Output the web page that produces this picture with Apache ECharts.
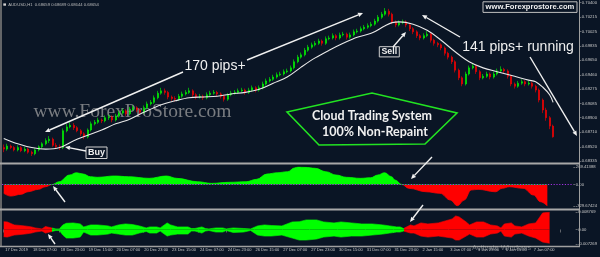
<!DOCTYPE html>
<html><head><meta charset="utf-8">
<script src="https://cdn.jsdelivr.net/npm/echarts@6/dist/echarts.min.js"></script>
<style>html,body{margin:0;padding:0;background:#0a1525;}#c{width:600px;height:257px;}</style>
</head><body><div id="c"></div>
<script>
// ---------- data ----------
const symbolName = 'AUDUSD,H1';
const lastBar = {open: 0.68659, high: 0.68689, low: 0.68644, close: 0.68654};

const tickLabels = ['17 Dec 2019','18 Dec 07:00','18 Dec 23:00','19 Dec 15:00','20 Dec 07:00','20 Dec 23:00',
  '23 Dec 15:00','24 Dec 07:00','24 Dec 23:00','26 Dec 15:00','27 Dec 07:00','27 Dec 23:00','30 Dec 15:00',
  '31 Dec 07:00','31 Dec 23:00','2 Jan 15:00','3 Jan 07:00','3 Jan 23:00','6 Jan 15:00','7 Jan 07:00'];
const barSlots = 165;        // 2-hour slots on the time axis (last ones empty: chart shift)
const barsPerLabel = 8;

const priceTicks = [0.70400,0.70215,0.70025,0.69835,0.69650,0.69460,0.69275,0.69085,0.68900,0.68710,0.68520,0.68335];
const osc2Ticks = [-329.67424, 0, 269.41388];
const osc3Ticks = [-0.007269, 0, 0.008769];

const barOpen = [.6851,.6849,.6853,.6851,.6848,.6851,.6847,.6849,.6845,.6843,
 .6848,.6852,.6856,.6860,.6862,.6854,.6852,.6851,.6873,.6878,
 .6880,.6877,.6873,.6869,.6865,.6874,.6882,.6884,.6887,.6886,
 .6890,.6891,.6887,.6892,.6896,.6899,.6895,.6901,.6903,.6900,
 .6897,.6903,.6908,.6910,.6916,.6922,.6925,.6923,.6917,.6915,
 .6914,.6918,.6921,.6923,.6925,.6920,.6917,.6918,.6916,.6920,
 .6922,.6923,.6921,.6918,.6914,.6920,.6922,.6923,.6925,.6926,
 .6923,.6926,.6929,.6926,.6929,.6934,.6938,.6940,.6943,.6946,
 .6947,.6950,.6951,.6955,.6963,.6969,.6972,.6978,.6982,.6985,
 .6987,.6990,.6987,.6993,.6994,.6997,.6994,.6998,.6999,.6995,
 .6998,.7002,.7003,.7006,.7008,.7010,.7012,.7016,.7021,.7025,
 .7029,.7025,.7015,.7011,.7014,.7015,.7011,.7006,.7002,.6997,
 .6994,.6997,.6999,.6991,.6987,.6985,.6981,.6974,.6969,.6963,
 .6952,.6942,.6934,.6947,.6955,.6957,.6950,.6942,.6944,.6947,
 .6943,.6947,.6951,.6953,.6951,.6944,.6934,.6931,.6935,.6937,
 .6934,.6935,.6931,.6926,.6913,.6900,.6890,.6879];
const barClose = [.6849,.6853,.6851,.6848,.6851,.6847,.6849,.6845,.6843,.6848,
 .6852,.6856,.6860,.6862,.6854,.6852,.6851,.6873,.6878,.6880,
 .6877,.6873,.6869,.6865,.6874,.6882,.6884,.6887,.6886,.6890,
 .6891,.6887,.6892,.6896,.6899,.6895,.6901,.6903,.6900,.6897,
 .6903,.6908,.6910,.6916,.6922,.6925,.6923,.6917,.6915,.6914,
 .6918,.6921,.6923,.6925,.6920,.6917,.6918,.6916,.6920,.6922,
 .6923,.6921,.6918,.6914,.6920,.6922,.6923,.6925,.6926,.6923,
 .6926,.6929,.6926,.6929,.6934,.6938,.6940,.6943,.6946,.6947,
 .6950,.6951,.6955,.6963,.6969,.6972,.6978,.6982,.6985,.6987,
 .6990,.6987,.6993,.6994,.6997,.6994,.6998,.6999,.6995,.6998,
 .7002,.7003,.7006,.7008,.7010,.7012,.7016,.7021,.7025,.7029,
 .7025,.7015,.7011,.7014,.7015,.7011,.7006,.7002,.6997,.6994,
 .6997,.6999,.6991,.6987,.6985,.6981,.6974,.6969,.6963,.6952,
 .6942,.6934,.6947,.6955,.6957,.6950,.6942,.6944,.6947,.6943,
 .6947,.6951,.6953,.6951,.6944,.6934,.6931,.6935,.6937,.6934,
 .6935,.6931,.6926,.6913,.6900,.6890,.6879,.6865];
const barLow = [.6845,.6847,.6849,.6846,.6846,.6845,.6845,.6843,.6840,.6841,
 .6846,.6850,.6854,.6857,.6852,.6849,.6848,.6849,.6871,.6876,
 .6874,.6871,.6866,.6862,.6863,.6872,.6880,.6882,.6883,.6884,
 .6887,.6884,.6885,.6890,.6894,.6892,.6893,.6899,.6897,.6894,
 .6895,.6901,.6906,.6908,.6914,.6920,.6920,.6914,.6912,.6911,
 .6912,.6916,.6919,.6921,.6917,.6914,.6915,.6913,.6914,.6918,
 .6920,.6918,.6915,.6911,.6912,.6918,.6920,.6921,.6923,.6920,
 .6921,.6924,.6923,.6924,.6927,.6932,.6936,.6938,.6941,.6944,
 .6945,.6948,.6949,.6953,.6961,.6967,.6970,.6976,.6980,.6983,
 .6985,.6984,.6985,.6991,.6992,.6991,.6992,.6996,.6992,.6993,
 .6996,.7000,.7001,.7004,.7006,.7008,.7010,.7014,.7019,.7023,
 .7022,.7012,.7008,.7009,.7012,.7008,.7003,.6999,.6994,.6991,
 .6992,.6995,.6988,.6984,.6982,.6978,.6971,.6966,.6960,.6949,
 .6939,.6931,.6932,.6945,.6953,.6947,.6939,.6940,.6942,.6940,
 .6941,.6945,.6949,.6948,.6941,.6931,.6928,.6929,.6933,.6931,
 .6932,.6928,.6923,.6910,.6896,.6886,.6875,.6864];
const barHigh = [.6855,.6856,.6855,.6853,.6854,.6853,.6852,.6851,.6847,.6850,
 .6854,.6858,.6863,.6866,.6864,.6857,.6855,.6876,.6882,.6884,
 .6883,.6879,.6875,.6871,.6876,.6885,.6887,.6890,.6889,.6893,
 .6894,.6893,.6895,.6899,.6902,.6901,.6904,.6906,.6905,.6902,
 .6906,.6911,.6913,.6919,.6925,.6929,.6928,.6925,.6919,.6918,
 .6921,.6924,.6926,.6929,.6927,.6922,.6921,.6920,.6923,.6925,
 .6926,.6925,.6923,.6920,.6922,.6925,.6926,.6928,.6929,.6928,
 .6929,.6932,.6931,.6932,.6937,.6941,.6943,.6946,.6949,.6950,
 .6953,.6954,.6958,.6966,.6972,.6975,.6981,.6985,.6988,.6990,
 .6993,.6992,.6996,.6997,.7000,.6999,.7001,.7002,.7001,.7001,
 .7005,.7006,.7009,.7011,.7013,.7015,.7019,.7024,.7028,.7033,
 .7032,.7027,.7017,.7017,.7018,.7017,.7013,.7008,.7004,.6999,
 .7000,.7003,.7001,.6993,.6989,.6987,.6983,.6976,.6971,.6965,
 .6954,.6944,.6950,.6958,.6961,.6959,.6952,.6947,.6950,.6949,
 .6950,.6954,.6957,.6955,.6953,.6946,.6936,.6938,.6940,.6939,
 .6938,.6937,.6933,.6928,.6915,.6903,.6892,.6881];

// moving average (white line), read at these bars
const maBar = [0,4,8,12,16,20,24,28,32,36,40,45,49,53,57,61,65,69,73,77,81,85,89,93,97,101,105,109,111,113,117,121,125,129,133,137,141,146,150,152,154,156,157];
const maVal = [.6863,.6856,.6851,.6849,.6851,.6860,.6867,.6874,.6882,.6888,.6897,.6907,.6912,.6916,.6917,
 .6918,.6921,.6923,.6927,.6935,.6943,.6956,.6968,.6978,.6987,.6995,.7000,.7010,.7014,.7015,
 .7012,.7004,.6991,.6976,.6963,.6955,.6950,.6944,.6939,.6937,.6930,.6920,.6910];

// cloud oscillator (panel 2)
const osc2Bar = [0,2,5,7,10,12,14,16,19,21,23,25,27,32,36,42,47,50,56,60,65,70,73,76,79,82,84,85,87,90,93,96,99,103,106,108,110,112,113,115,117,122,126,129,131,133,135,137,142,144,146,150,153,155,157];
const osc2Val = [-135,-177,-150,-111,-74,-34,0,43,146,181,161,120,111,131,120,95,131,95,43,18,
 34,43,80,161,181,197,255,269,264,249,197,146,111,95,104,146,181,120,69,0,
 -58,-111,-135,-238,-326,-238,-84,-74,-111,-58,-34,-58,-161,-264,-329];

// histogram band (panel 3)
const osc3Bar = [0,1,3,6,8,9,11,12,15,16,17,18,20,22,23,25,27,30,31,33,35,37,39,41,42,44,45,47,48,50,53,54,55,57,58,59,61,63,64,66,69,71,73,75,77,80,83,85,87,90,92,95,97,100,103,106,109,111,113,114,115,117,118,120,122,125,127,129,130,131,133,134,136,138,140,142,143,144,146,147,149,151,153,154,155,157];
const osc3Up = [.0039,.0038,.0023,.0018,.0013,.0008,.0003,.0015,.0003,.0003,
 .0023,.0031,.0033,.0028,.0013,.0023,.0023,.0018,.0013,.0023,
 .0028,.0025,.0018,.0008,.0013,.0013,.0008,.0033,.0023,.0013,
 .0013,.0005,.0005,.0013,.0005,.0003,.0008,.0008,.0003,.0008,
 .0005,.0003,.0018,.0023,.0020,.0018,.0038,.0039,.0048,.0048,
 .0038,.0033,.0038,.0033,.0028,.0028,.0023,.0018,.0013,.0013,
 .0005,.0023,.0018,.0033,.0028,.0033,.0043,.0053,.0068,.0063,
 .0038,.0023,.0038,.0038,.0023,.0018,.0008,.0028,.0033,.0018,
 .0013,.0028,.0033,.0058,.0083,.0087];
const osc3Dn = [-.0036,-.0038,-.0028,-.0023,-.0018,-.0013,-.0008,-.0018,-.0005,-.0005,
 -.0028,-.0043,-.0043,-.0038,-.0013,-.0028,-.0028,-.0023,-.0018,-.0023,
 -.0028,-.0028,-.0018,-.0010,-.0018,-.0018,-.0008,-.0033,-.0028,-.0023,
 -.0023,-.0008,-.0008,-.0018,-.0008,-.0005,-.0013,-.0013,-.0005,-.0015,
 -.0013,-.0005,-.0028,-.0033,-.0033,-.0028,-.0043,-.0053,-.0053,-.0048,
 -.0038,-.0033,-.0038,-.0033,-.0033,-.0028,-.0023,-.0018,-.0013,-.0013,
 -.0008,-.0018,-.0018,-.0033,-.0038,-.0033,-.0038,-.0043,-.0053,-.0053,
 -.0033,-.0023,-.0038,-.0038,-.0023,-.0018,-.0008,-.0033,-.0038,-.0023,
 -.0018,-.0033,-.0043,-.0053,-.0063,-.0069];

// ---------- styling / assembly ----------
const BG = '#0a1525', RED = '#ff0000', GREEN = '#00ff00', TXT = '#c8c8c8', FONT = 'Liberation Sans';
const cats = Array.from({length: barSlots}, (_, i) => String(i));
const candles = barOpen.map((o, i) => [o, barClose[i], barLow[i], barHigh[i]]);
const pairs = (xs, ys) => xs.map((x, i) => [x, ys[i]]);

// trend changes of the cloud oscillator -> colours of panel 3
const crossings = [];
for (let k = 1; k < osc2Val.length; k++) {
  const a = osc2Val[k - 1], b = osc2Val[k];
  if ((a < 0) !== (b < 0)) crossings.push(osc2Bar[k - 1] + (0 - a) / (b - a) * (osc2Bar[k] - osc2Bar[k - 1]));
}
const trendPieces = [];
let neg = osc2Val[0] < 0, lo = null;
crossings.forEach(c => {
  const p = {lt: c, color: neg ? RED : GREEN};
  if (lo !== null) p.gte = lo;
  trendPieces.push(p); lo = c; neg = !neg;
});
trendPieces.push({gte: lo, color: neg ? RED : GREEN});

const xAxisOf = (gi, show) => ({
  type: 'category', gridIndex: gi, data: cats, boundaryGap: true, offset: show ? 3 : 0,
  axisLine: {show: false}, splitLine: {show: false},
  axisTick: show ? {show: true, interval: barsPerLabel - 1, length: 3, alignWithLabel: true, lineStyle: {color: '#9a9a9a', width: 0.6}} : {show: false},
  axisLabel: show ? {show: true, interval: barsPerLabel - 1, fontSize: 4, color: TXT, fontFamily: FONT, align: 'left', margin: 1,
    padding: [0, 0, 0, 1.5], formatter: (v, i) => tickLabels[Math.round(Number(v) / barsPerLabel)] || ''} : {show: false}
});
const yAxisOf = (gi, ticks, fmt) => ({
  type: 'value', gridIndex: gi, position: 'right', min: Math.min(...ticks), max: Math.max(...ticks),
  splitLine: {show: false}, axisLine: {show: false},
  axisTick: {show: true, length: 2, customValues: ticks, lineStyle: {color: '#9a9a9a', width: 0.6}},
  axisLabel: {show: true, customValues: ticks, formatter: fmt, fontSize: 4.2, color: TXT, fontFamily: FONT, margin: 2.5}
});
const zeroFmt = v => (v === 0 ? '0.00' : String(v));

// annotation helpers
const W = '#f0f0f0';
function arrow(x1, y1, x2, y2) {
  const a = Math.atan2(y2 - y1, x2 - x1), L = 5, H = 2.2;
  const bx = x2 - L * Math.cos(a), by = y2 - L * Math.sin(a);
  const px = -Math.sin(a) * H, py = Math.cos(a) * H;
  return [
    {type: 'line', z: 100, shape: {x1, y1, x2: bx, y2: by}, style: {stroke: W, lineWidth: 1.4}},
    {type: 'polygon', z: 100, shape: {points: [[x2, y2], [bx + px, by + py], [bx - px, by - py]]}, style: {fill: W}}
  ];
}
const txt = (text, x, y, size, opts = {}) => ({type: 'text', z: 100, style: Object.assign({
  text, x, y, fontSize: size, fontFamily: FONT, fill: W, align: 'center', verticalAlign: 'middle'}, opts)});
const hline = (y, lw, c) => ({type: 'line', z: 90, shape: {x1: 0, y1: y, x2: 580, y2: y}, style: {stroke: c, lineWidth: lw}});

const graphics = [
  // frame
  {type: 'line', z: 90, shape: {x1: 1, y1: 0, x2: 1, y2: 247}, style: {stroke: '#7a7a7a', lineWidth: 1.6}},
  {type: 'line', z: 90, shape: {x1: 579.5, y1: 0, x2: 579.5, y2: 247}, style: {stroke: '#a0a0a0', lineWidth: 1}},
  hline(163.5, 1.8, '#a8a8a8'), hline(209.5, 1.8, '#a8a8a8'), hline(246.5, 1.4, '#a0a0a0'),
  // header
  {type: 'rect', z: 100, shape: {x: 3.3, y: 3.4, width: 2.7, height: 2.3}, style: {fill: '#d0d0d0'}},
  txt(symbolName + '  ' + [lastBar.open, lastBar.high, lastBar.low, lastBar.close].map(v => v.toFixed(5)).join(' '),
      8.3, 5, 4.2, {align: 'left', fill: '#bdbdbd'}),
  // watermark
  {type: 'text', z: 1, style: {text: 'www.ForexProStore.com', x: 132.5, y: 112, fontSize: 19.5, fontFamily: 'Liberation Serif',
    fill: 'rgba(165,165,165,0.72)', align: 'center', verticalAlign: 'middle'}},
  // site box
  {type: 'rect', z: 100, shape: {x: 483, y: 1.8, width: 94, height: 10.6}, style: {fill: BG, stroke: '#c0c0c0', lineWidth: 1}},
  txt('www.Forexprostore.com', 530, 7.3, 7.6, {fontWeight: 'bold'}),
  // pips labels and arrows
  txt('170 pips+', 215, 66, 14),
  ...arrow(183, 72, 45, 132), ...arrow(247, 60, 363, 13),
  txt('141 pips+ running', 518, 47.5, 14),
  ...arrow(460, 37, 422, 15), ...arrow(530, 57, 577, 136),
  // buy / sell
  {type: 'rect', z: 100, shape: {x: 86, y: 147, width: 21, height: 11.5}, style: {fill: BG, stroke: '#d0d0d0', lineWidth: 1}},
  txt('Buy', 96.5, 152.9, 9, {fontWeight: 'bold'}),
  ...arrow(86, 151, 65, 147),
  {type: 'rect', z: 100, shape: {x: 379.3, y: 46.7, width: 20, height: 10.2}, style: {fill: BG, stroke: '#d0d0d0', lineWidth: 1}},
  txt('Sell', 389.3, 51.9, 8.8, {fontWeight: 'bold'}),
  ...arrow(393, 47, 406, 32),
  // indicator arrows
  ...arrow(65, 202, 53, 186), ...arrow(432, 157, 411, 179),
  ...arrow(55, 244, 48, 234), ...arrow(423, 205, 410, 222),
  // system box
  {type: 'polygon', z: 100, shape: {points: [[287, 112], [372, 93], [457, 113], [425, 144], [319, 145]]},
    style: {fill: 'transparent', stroke: '#22e322', lineWidth: 1.6}},
  txt('Cloud Trading System', 372, 115.5, 12.5, {fontWeight: 'bold', fontFamily: 'Lato'}),
  txt('100% Non-Repaint', 375, 132, 12.5, {fontWeight: 'bold', fontFamily: 'Lato'}),
  // OS watermark
  txt('Activate Windows', 472, 247.5, 7.5, {align: 'left', fill: 'rgba(215,215,215,0.42)'})
];

const option = {
  backgroundColor: BG,
  animation: false,
  grid: [
    {left: 2, top: 2.7, width: 578, height: 158.3},
    {left: 2, top: 167, width: 578, height: 39},
    {left: 2, top: 212, width: 578, height: 32}
  ],
  xAxis: [xAxisOf(0, false), xAxisOf(1, false), xAxisOf(2, true)],
  yAxis: [
    yAxisOf(0, priceTicks, v => v.toFixed(5)),
    yAxisOf(1, osc2Ticks, zeroFmt),
    yAxisOf(2, osc3Ticks, zeroFmt)
  ],
  visualMap: [
    {type: 'piecewise', show: false, seriesIndex: 2, dimension: 1,
      pieces: [{lt: 0, color: RED}, {gte: 0, lte: osc2Ticks[2], color: GREEN}, {gt: osc2Ticks[2], color: GREEN}]},
    {type: 'piecewise', show: false, seriesIndex: [3, 4], dimension: 0, pieces: trendPieces}
  ],
  series: [
    {type: 'candlestick', xAxisIndex: 0, yAxisIndex: 0, data: candles, barWidth: 1.7, z: 3,
      itemStyle: {color: GREEN, color0: RED, borderColor: GREEN, borderColor0: RED, borderWidth: 0.6},
      markLine: {silent: true, symbol: 'none', data: [{yAxis: lastBar.close}],
        lineStyle: {opacity: 0},
        label: {show: true, position: 'end', distance: 1, formatter: () => lastBar.close.toFixed(5),
          backgroundColor: '#f2f2f2', color: '#000', fontSize: 4.2, fontFamily: FONT, padding: [0.6, 1.2, 0.4, 1.2]}}},
    {type: 'line', xAxisIndex: 0, yAxisIndex: 0, data: pairs(maBar, maVal), smooth: 0.35, symbol: 'none', z: 4,
      lineStyle: {color: '#e8e8e8', width: 1.1}},
    {type: 'line', xAxisIndex: 1, yAxisIndex: 1, data: pairs(osc2Bar, osc2Val), smooth: 0.4, smoothMonotone: 'x',
      symbol: 'none', lineStyle: {width: 0.8}, areaStyle: {opacity: 1},
      markLine: {silent: true, symbol: 'none', data: [{yAxis: 0}], label: {show: false},
        lineStyle: {color: '#a030e0', type: [1.2, 1.6], width: 1}}},
    {type: 'line', xAxisIndex: 2, yAxisIndex: 2, data: pairs(osc3Bar, osc3Up), symbol: 'none',
      lineStyle: {width: 0.6}, areaStyle: {opacity: 1}},
    {type: 'line', xAxisIndex: 2, yAxisIndex: 2, data: pairs(osc3Bar, osc3Dn), symbol: 'none',
      lineStyle: {width: 0.6}, areaStyle: {opacity: 1}}
  ],
  graphic: graphics
};

const chart = echarts.init(document.getElementById('c'), null, {renderer: 'canvas'});
chart.setOption(option);
</script></body></html>
